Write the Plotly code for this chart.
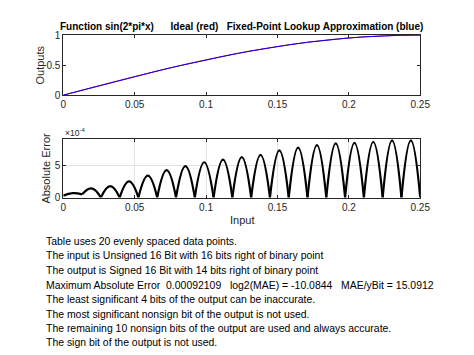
import plotly.graph_objects as go

# ---------------- data ----------------
# ideal function sin(2*pi*x), values read at x = 0 .. 0.25 step 0.025
ideal_x = [0, 0.025, 0.05, 0.075, 0.1, 0.125, 0.15, 0.175, 0.2, 0.225, 0.25]
ideal_y = [0, 0.1564, 0.3090, 0.4540, 0.5878, 0.7071, 0.8090, 0.8910, 0.9511, 0.9877, 1.0]

# lookup table: 20 evenly spaced breakpoints
table_x = [0, 0.01316, 0.02632, 0.03947, 0.05263, 0.06579, 0.07895, 0.09211,
           0.10526, 0.11842, 0.13158, 0.14474, 0.15789, 0.17105, 0.18421,
           0.19737, 0.21053, 0.22368, 0.23684, 0.25]
table_y = [0, 0.0826, 0.1646, 0.2455, 0.3247, 0.4017, 0.4760, 0.5470,
           0.6142, 0.6773, 0.7357, 0.7891, 0.8372, 0.8795, 0.9158,
           0.9458, 0.9694, 0.9864, 0.9966, 1.0]

# absolute error (units of 1e-4): value at each breakpoint and arc peak between them
err_at_breaks = [0.3, 0.5, 0, 0, 0, 0, 0, 0, 0, 0, 0, 0, 0, 0, 0, 0, 0, 0, 0, 0]
err_peaks = [0.7, 1.45, 1.8, 2.55, 3.45, 4.3, 4.95, 5.55, 5.95, 6.35,
             6.7, 7.4, 7.85, 8.25, 8.5, 8.6, 8.75, 9.0, 9.0]

x_ticks = [0, 0.05, 0.1, 0.15, 0.2, 0.25]
x_ticklabels = ["0", "0.05", "0.1", "0.15", "0.2", "0.25"]

info_lines = [
    "Table uses 20 evenly spaced data points.",
    "The input is Unsigned 16 Bit with 16 bits right of binary point",
    "The output is Signed 16 Bit with 14 bits right of binary point",
    "Maximum Absolute Error  0.00092109   log2(MAE) = -10.0844   MAE/yBit = 15.0912",
    "The least significant 4 bits of the output can be inaccurate.",
    "The most significant nonsign bit of the output is not used.",
    "The remaining 10 nonsign bits of the output are used and always accurate.",
    "The sign bit of the output is not used.",
]

title_text = ("Function sin(2*pi*x)      Ideal (red)   "
              "Fixed-Point Lookup Approximation (blue)")

# ---------------- figure ----------------
W, H = 474, 355
def PX(px):
    return px / W
def PY(py):
    return 1 - py / H

FONT = "Liberation Sans, Arial, Helvetica, sans-serif"
AX = "#262626"

# error curve: each arc is its own smoothed piece
ex, ey = [], []
for i in range(len(err_peaks)):
    ex += [table_x[i], (table_x[i] + table_x[i + 1]) / 2, table_x[i + 1], None]
    ey += [err_at_breaks[i] * 1e-4, err_peaks[i] * 1e-4, err_at_breaks[i + 1] * 1e-4, None]

fig = go.Figure()
fig.add_trace(go.Scatter(x=ideal_x, y=ideal_y, mode="lines", line=dict(color="red", width=1, shape="spline"),
                         xaxis="x", yaxis="y", hoverinfo="skip"))
fig.add_trace(go.Scatter(x=table_x, y=table_y, mode="lines", line=dict(color="blue", width=1),
                         xaxis="x", yaxis="y", hoverinfo="skip"))
fig.add_trace(go.Scatter(x=ex, y=ey, mode="lines", connectgaps=False,
                         line=dict(color="black", width=2.2, shape="spline", smoothing=1.3),
                         xaxis="x2", yaxis="y2", hoverinfo="skip"))

xdom = [PX(62), PX(429)]
common_x = dict(range=[0, 0.25], tickvals=x_ticks, ticktext=x_ticklabels, ticks="inside", ticklen=3,
                tickcolor=AX, showline=True, linecolor=AX, linewidth=1, mirror="ticks",
                tickfont=dict(family=FONT, size=10, color=AX), zeroline=False, fixedrange=True)
fig.update_layout(
    width=W, height=H, margin=dict(l=0, r=0, t=0, b=0),
    paper_bgcolor="white", plot_bgcolor="white", showlegend=False,
    xaxis=dict(domain=xdom, anchor="y", showgrid=False, **common_x),
    yaxis=dict(domain=[PY(93), PY(31)], anchor="x", range=[0, 1], tickvals=[0, 0.5, 1],
               ticktext=["0", "0.5", "1"], ticks="inside", ticklen=3, tickcolor=AX,
               showline=True, linecolor=AX, linewidth=1, mirror="ticks", showgrid=False,
               zeroline=False, tickfont=dict(family=FONT, size=10, color=AX)),
    xaxis2=dict(domain=xdom, anchor="y2", showgrid=True, gridcolor="#e3e3e3", gridwidth=1, **common_x),
    yaxis2=dict(domain=[PY(198.7), PY(138.3)], anchor="x2", range=[0, 9.2e-4], tickvals=[0, 5e-4],
                ticktext=["0", "5"], ticks="inside", ticklen=3, tickcolor=AX,
                showline=True, linecolor=AX, linewidth=1, mirror="ticks", showgrid=True,
                gridcolor="#e3e3e3", zeroline=False, tickfont=dict(family=FONT, size=10, color=AX)),
)

ann = []
ann.append(dict(x=PX(245), y=PY(22), xref="paper", yref="paper", text="<b>" + title_text.replace(" ", "\u00a0") + "</b>",
                showarrow=False, xanchor="center", yanchor="middle",
                font=dict(family=FONT, size=10, color="black")))
ann.append(dict(x=PX(38.5), y=PY(62), xref="paper", yref="paper", text="Outputs", textangle=-90,
                showarrow=False, xanchor="center", yanchor="middle", font=dict(family=FONT, size=11, color=AX)))
ann.append(dict(x=PX(44), y=PY(168), xref="paper", yref="paper", text="Absolute Error", textangle=-90,
                showarrow=False, xanchor="center", yanchor="middle", font=dict(family=FONT, size=11, color=AX)))
ann.append(dict(x=PX(245.5), y=PY(222), xref="paper", yref="paper", text="Input",
                showarrow=False, xanchor="center", yanchor="middle", font=dict(family=FONT, size=11, color=AX)))
ann.append(dict(x=PX(62), y=PY(132), xref="paper", yref="paper", text="\u00d710<sup>-4</sup>",
                showarrow=False, xanchor="left", yanchor="middle", font=dict(family=FONT, size=8.5, color=AX)))
line_y = [244, 259, 274, 289, 304, 319, 334, 348]
for t, yy in zip(info_lines, line_y):
    ann.append(dict(x=PX(42), y=PY(yy), xref="paper", yref="paper", text=t.replace("  ", "\u00a0\u00a0"),
                    showarrow=False, xanchor="left", yanchor="middle",
                    font=dict(family=FONT, size=10.45, color="black")))
fig.update_layout(annotations=ann)

fig.write_html("out.html", config={"displayModeBar": False},
               post_script="document.body.style.margin='0';document.body.style.overflow='hidden';")
